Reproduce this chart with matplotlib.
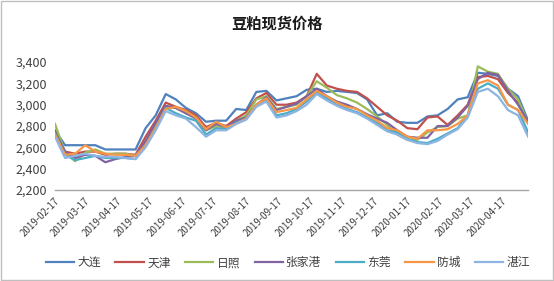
import matplotlib
matplotlib.use("Agg")
import matplotlib.pyplot as plt
import matplotlib.dates as mdates
from matplotlib.ticker import FuncFormatter, FixedLocator
import pandas as pd
from matplotlib.patches import Rectangle

plt.rcParams['font.family'] = ['Noto Sans CJK SC', 'DejaVu Sans']

title = "豆粕现货价格"
series_names = ["大连", "天津", "日照", "张家港", "东莞", "防城", "湛江"]
colors = ["#4F81BD", "#C0504D", "#9BBB59", "#8064A2", "#4BACC6", "#F79646", "#8EB4E3"]

dates = pd.date_range("2019-02-17", "2020-05-12", periods=48)

dalian = [2760, 2620, 2620, 2620, 2620, 2580, 2580, 2580, 2580, 2780, 2900, 3100,
          3050, 2970, 2920, 2840, 2850, 2850, 2960, 2950, 3120, 3130, 3040, 3060,
          3080, 3140, 3150, 3120, 3130, 3120, 3110, 3050, 2900, 2920, 2840, 2830,
          2830, 2890, 2900, 2960, 3050, 3070, 3300, 3290, 3270, 3150, 3080, 2850]
tianjin = [2750, 2560, 2540, 2560, 2560, 2530, 2540, 2540, 2530, 2700, 2850, 3020,
           2980, 2950, 2900, 2790, 2830, 2800, 2870, 2930, 3060, 3110, 3000, 3000,
           3020, 3080, 3290, 3180, 3150, 3130, 3120, 3060, 2980, 2900, 2850, 2780,
           2770, 2880, 2890, 2810, 2900, 3000, 3260, 3270, 3240, 3110, 3020, 2830]
rizhao = [2820, 2550, 2470, 2550, 2580, 2540, 2540, 2540, 2520, 2650, 2800, 2980,
          2970, 2920, 2880, 2760, 2800, 2780, 2850, 2900, 3050, 3080, 2960, 2980,
          3000, 3080, 3220, 3160, 3090, 3060, 3020, 2960, 2890, 2810, 2720, 2670,
          2670, 2740, 2790, 2800, 2870, 2900, 3360, 3310, 3290, 3150, 3050, 2830]
zhangjiagang = [2740, 2560, 2500, 2530, 2520, 2460, 2490, 2510, 2520, 2660, 2830, 2990,
                2970, 2920, 2870, 2760, 2820, 2790, 2850, 2880, 3000, 3070, 2950, 2980,
                3010, 3080, 3150, 3080, 3030, 3000, 2960, 2910, 2870, 2830, 2760, 2700,
                2690, 2690, 2800, 2800, 2880, 2990, 3240, 3300, 3280, 3130, 3000, 2840]
dongguan = [2730, 2530, 2480, 2500, 2520, 2500, 2500, 2500, 2490, 2620, 2780, 2970,
            2920, 2880, 2850, 2720, 2780, 2770, 2830, 2870, 3000, 3050, 2900, 2920,
            2960, 3030, 3120, 3060, 3000, 2960, 2930, 2880, 2830, 2760, 2740, 2680,
            2650, 2640, 2680, 2730, 2780, 2900, 3150, 3200, 3150, 3000, 2950, 2740]
fangcheng = [2720, 2530, 2540, 2620, 2560, 2540, 2530, 2530, 2520, 2620, 2780, 2960,
             2980, 2940, 2880, 2770, 2840, 2790, 2820, 2870, 3000, 3060, 2930, 2950,
             2970, 3050, 3130, 3080, 3020, 2980, 2960, 2900, 2850, 2780, 2760, 2700,
             2680, 2760, 2760, 2770, 2820, 2900, 3200, 3230, 3180, 3000, 2950, 2820]
zhanjiang = [2700, 2500, 2520, 2540, 2520, 2510, 2510, 2500, 2490, 2600, 2760, 2940,
             2900, 2870, 2790, 2700, 2760, 2760, 2820, 2860, 2980, 3030, 2880, 2900,
             2940, 3000, 3100, 3040, 2990, 2950, 2920, 2870, 2810, 2750, 2720, 2670,
             2640, 2630, 2660, 2720, 2770, 2880, 3120, 3150, 3080, 2950, 2900, 2700]

all_series = [dalian, tianjin, rizhao, zhangjiagang, dongguan, fangcheng, zhanjiang]

x_tick_labels = ["2019-02-17", "2019-03-17", "2019-04-17", "2019-05-17", "2019-06-17",
                 "2019-07-17", "2019-08-17", "2019-09-17", "2019-10-17", "2019-11-17",
                 "2019-12-17", "2020-01-17", "2020-02-17", "2020-03-17", "2020-04-17"]
y_ticks = [2200, 2400, 2600, 2800, 3000, 3200, 3400]

fig = plt.figure(figsize=(5.54, 2.81), dpi=100)
fig.patches.append(Rectangle((0.002, 0.004), 0.996, 0.992, transform=fig.transFigure,
                             fill=False, edgecolor="#BFBFBF", linewidth=1.0))
ax = fig.add_axes([0.0993, 0.324, 0.854, 0.455])

for name, vals, c in zip(series_names, all_series, colors):
    ax.plot(dates, vals, color=c, linewidth=1.6, label=name, solid_joinstyle="round")

ax.set_ylim(2200, 3400)
ax.set_yticks(y_ticks)
ax.yaxis.set_major_formatter(FuncFormatter(lambda v, p: f"{int(v):,}"))
ax.set_xlim(dates[0], dates[-1])
tick_dates = pd.to_datetime(x_tick_labels)
ax.set_xticks(tick_dates)
ax.set_xticklabels(x_tick_labels, rotation=45, ha="right", rotation_mode="anchor",
                   fontsize=7, color="#404040")
ax.tick_params(axis="both", length=0, colors="#404040")
ax.tick_params(axis="y", labelsize=9, pad=6)
ax.tick_params(axis="x", pad=4)
for s in ["top", "right", "left"]:
    ax.spines[s].set_visible(False)
ax.spines["bottom"].set_color("#A6A6A6")
ax.spines["bottom"].set_linewidth(1.0)

fig.text(0.5, 0.915, title, ha="center", va="center", fontsize=11, fontweight="bold",
         color="#1a1a1a")

fig.legend(loc="center", bbox_to_anchor=(0.52, 0.065), ncol=7, frameon=False,
           fontsize=8.5, handlelength=2.4, columnspacing=1.2, handletextpad=0.3,
           labelcolor="#404040")

fig.savefig("out.png", dpi=100)
